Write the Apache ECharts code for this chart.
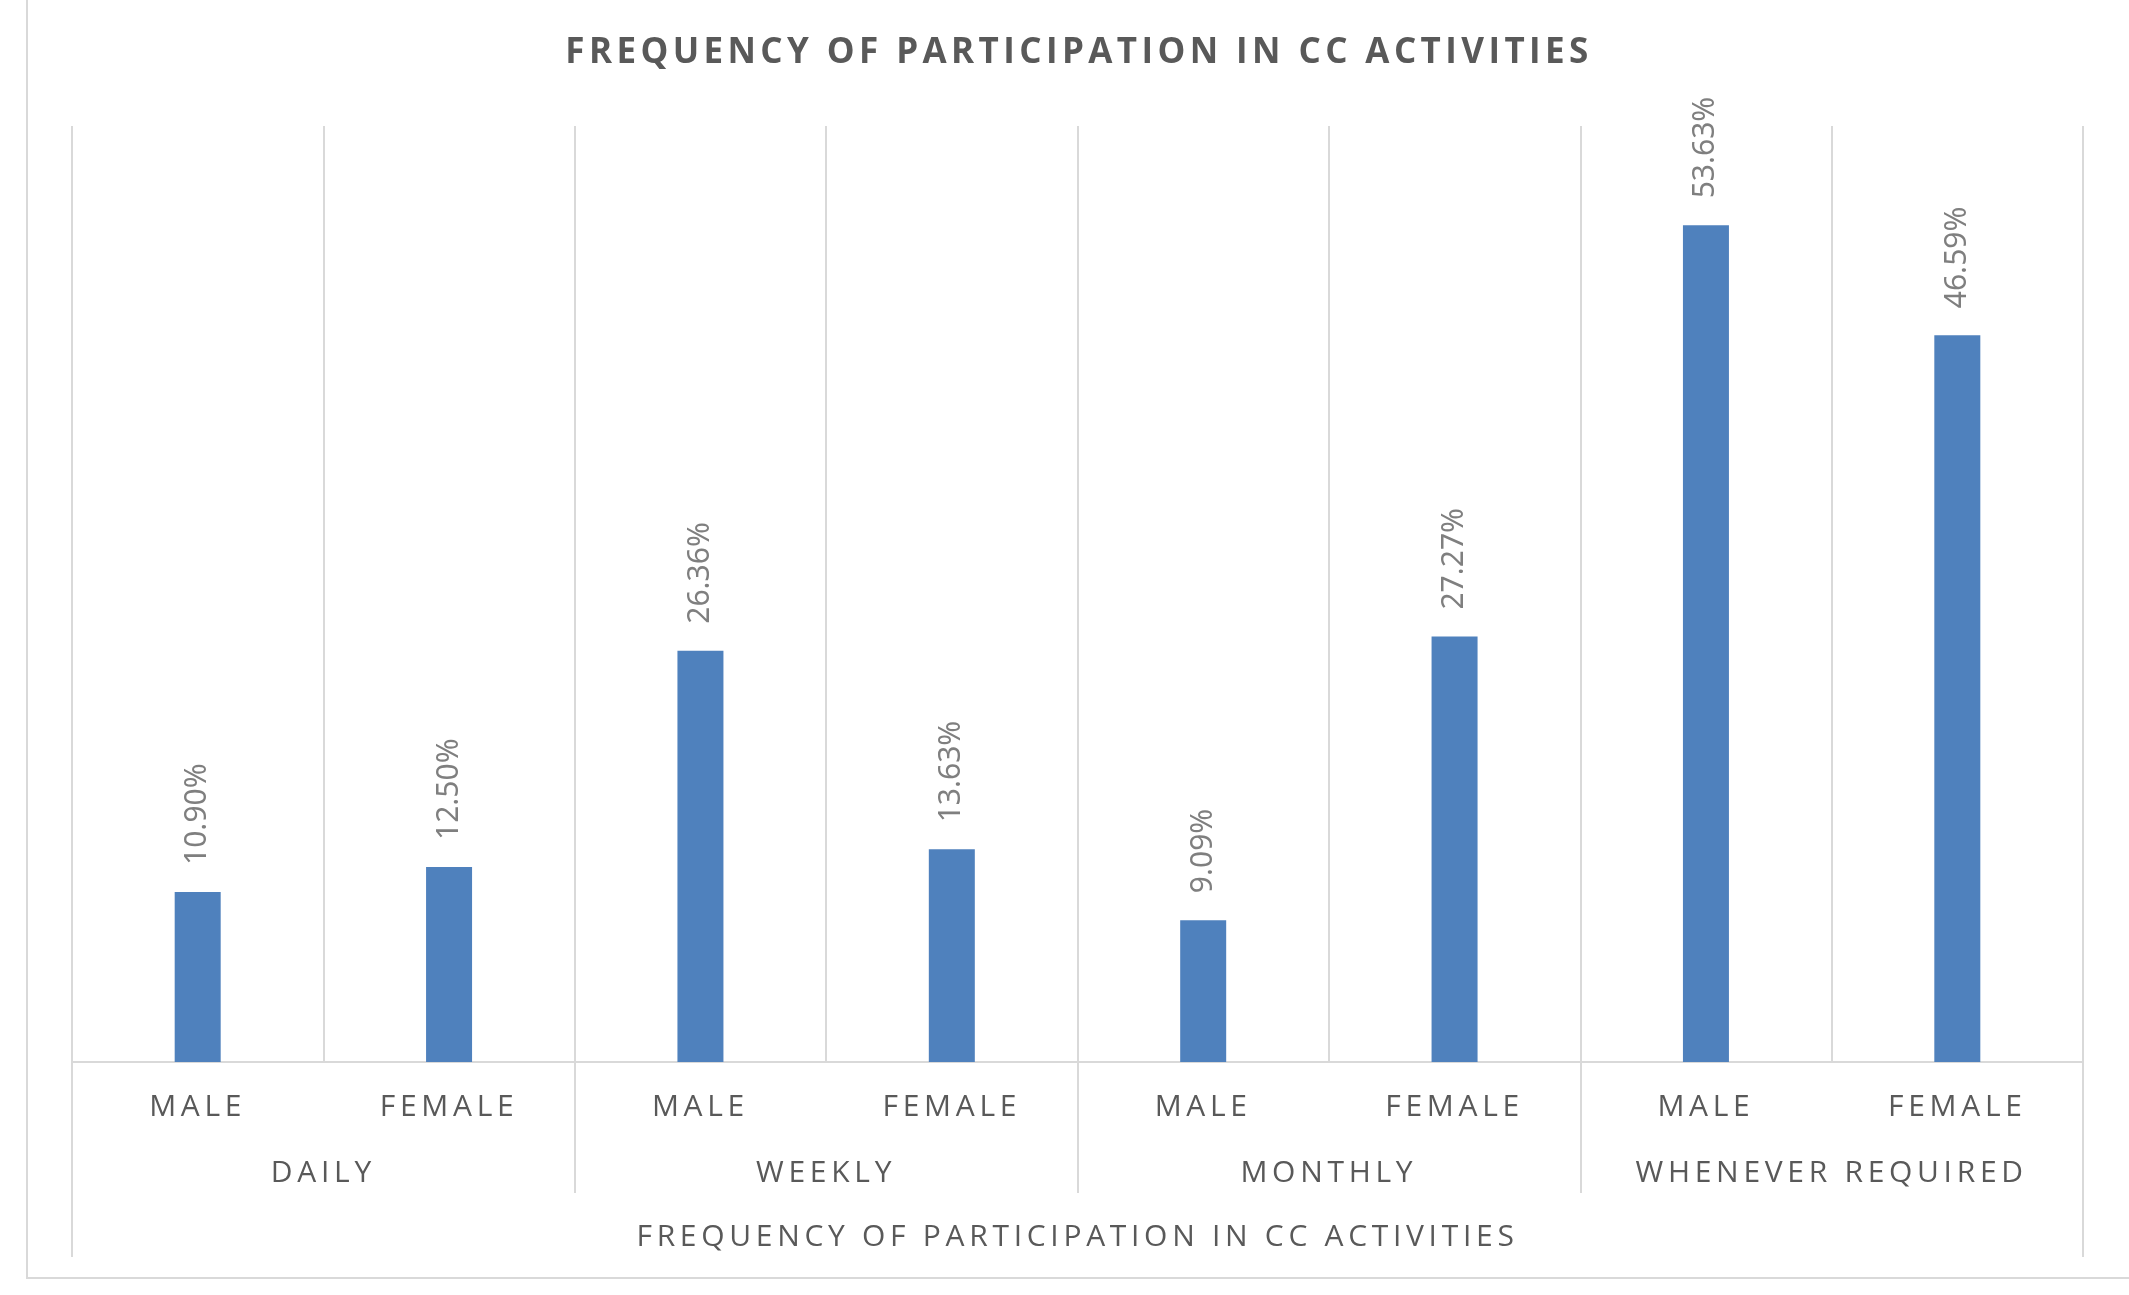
<!DOCTYPE html>
<html>
<head>
<meta charset="utf-8">
<script src="https://cdn.jsdelivr.net/npm/echarts@6/dist/echarts.min.js"></script>
<style>
html,body{margin:0;padding:0;background:#fff;}
#chart{width:2129px;height:1295px;}
</style>
</head>
<body>
<div id="chart"></div>
<script>
const chartTitle = 'FREQUENCY OF PARTICIPATION IN CC ACTIVITIES';
const axisTitle = 'FREQUENCY OF PARTICIPATION IN CC ACTIVITIES';
const groups = ['DAILY', 'WEEKLY', 'MONTHLY', 'WHENEVER REQUIRED'];
const genders = ['MALE', 'FEMALE', 'MALE', 'FEMALE', 'MALE', 'FEMALE', 'MALE', 'FEMALE'];
const values = [10.90, 12.50, 26.36, 13.63, 9.09, 27.27, 53.63, 46.59];

const SPACED_FONT = '"Open Sans", sans-serif';
const PLAIN_FONT = '"Noto Sans", sans-serif';
// Excel-style tracking for the upper-case category / title texts only.
(function () {
  const proto = CanvasRenderingContext2D.prototype;
  const orig = proto.fillText;
  proto.fillText = function (text, x, y, maxW) {
    const call = () => (maxW === undefined ? orig.call(this, text, x, y) : orig.call(this, text, x, y, maxW));
    if ('letterSpacing' in this && /^[A-Z ]+$/.test(String(text))) {
      const f = this.font || '';
      const prev = this.letterSpacing;
      this.letterSpacing = /bold|700/.test(f) ? '4.4px' : '4.7px';
      const r = call();
      this.letterSpacing = prev;
      return r;
    }
    if ('letterSpacing' in this) this.letterSpacing = '0px';
    return call();
  };
})();

const GRID_COLOR = '#d9d9d9';
const TEXT_COLOR = '#595959';

const chart = echarts.init(document.getElementById('chart'), null, {renderer: 'canvas'});
chart.setOption({
  backgroundColor: '#ffffff',
  animation: false,
  title: {
    text: chartTitle,
    left: 1074,
    textAlign: 'center',
    top: 31,
    textStyle: {fontFamily: SPACED_FONT, fontSize: 35, fontWeight: 'bold', color: TEXT_COLOR}
  },
  graphic: [{
    type: 'rect',
    shape: {x: 27, y: -10, width: 2200, height: 1288},
    style: {fill: 'none', stroke: GRID_COLOR, lineWidth: 2},
    silent: true
  }],
  grid: {left: 72, right: 46, top: 126, bottom: 233},
  yAxis: {type: 'value', min: 0, max: 60, show: false},
  xAxis: [
    {
      type: 'category',
      data: genders,
      position: 'bottom',
      axisLine: {show: true, lineStyle: {color: GRID_COLOR, width: 2}},
      axisTick: {show: false},
      axisLabel: {interval: 0, margin: 30, color: TEXT_COLOR, fontFamily: SPACED_FONT, fontSize: 30},
      splitLine: {show: true, interval: 0, lineStyle: {color: GRID_COLOR, width: 2}}
    },
    {
      type: 'category',
      data: groups,
      position: 'bottom',
      axisLine: {show: false},
      axisTick: {show: true, interval: 0, length: 131, lineStyle: {color: GRID_COLOR, width: 2}},
      axisLabel: {interval: 0, margin: 96, color: TEXT_COLOR, fontFamily: SPACED_FONT, fontSize: 30},
      splitLine: {show: false}
    },
    {
      type: 'category',
      data: [axisTitle],
      position: 'bottom',
      axisLine: {show: false},
      axisTick: {show: true, interval: 0, length: 195, lineStyle: {color: GRID_COLOR, width: 2}},
      axisLabel: {interval: 0, margin: 160, color: TEXT_COLOR, fontFamily: SPACED_FONT, fontSize: 30},
      splitLine: {show: false}
    }
  ],
  series: [{
    type: 'bar',
    xAxisIndex: 0,
    data: values,
    barWidth: 46,
    itemStyle: {color: '#4f81bd'},
    label: {
      show: true,
      position: 'top',
      rotate: 90,
      align: 'left',
      verticalAlign: 'middle',
      distance: 27,
      color: '#7f7f7f',
      fontFamily: PLAIN_FONT,
      fontSize: 30,
      formatter: p => p.value.toFixed(2) + '%'
    }
  }]
});
</script>
</body>
</html>
